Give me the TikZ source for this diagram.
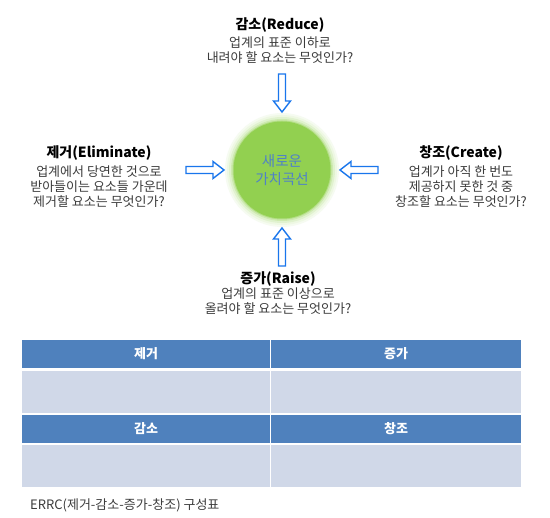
\documentclass[tikz,border=0pt]{standalone}
\usepackage{fontspec}
\setmainfont{Noto Sans CJK KR}
\begin{document}
\begin{tikzpicture}[x=1pt,y=-1pt,
  title/.style={font=\fontsize{14}{15}\selectfont\bfseries, text=black, inner sep=0pt},
  body/.style={font=\fontsize{13}{15}\selectfont, text=bodygray, align=center, inner sep=0pt},
  blockarrow/.style={draw=arrowblue, fill=white, line width=1.4pt, line join=miter},
  head/.style={fill=hdrblue, draw=none},
  cell/.style={fill=cellblue, draw=none},
  hdrtext/.style={font=\fontsize{13}{15}\selectfont\bfseries, text=white, inner sep=0pt},
]
\definecolor{bodygray}{RGB}{60,60,60}
\definecolor{arrowblue}{RGB}{25,118,236}
\definecolor{circgreen}{RGB}{146,208,80}
\definecolor{circtext}{RGB}{79,129,200}
\definecolor{hdrblue}{RGB}{79,129,189}
\definecolor{cellblue}{RGB}{208,216,232}
\useasboundingbox[fill=white] (0,0) rectangle (550,518);

% circle with glow
\foreach \r/\c in {57/8,55/16,53/28,51/45,49.5/70}{
  \fill[circgreen!\c!white] (282,170) circle[radius=\r];
}
\node[circle, fill=circgreen, minimum size=97pt, inner sep=0pt,
      font=\fontsize{14.5}{18.5}\selectfont, text=circtext, align=center] (core) at (282,170) {새로운\\가치곡선};

% arrows
\foreach \ang/\nm in {0/left,90/top,180/right,270/bottom}{
  \begin{scope}[shift={(core.center)}, rotate=\ang]
    \draw[blockarrow] (-96,-3.5) -- (-69,-3.5) -- (-69,-8.5) -- (-58,0) -- (-69,8.5) -- (-69,3.5) -- (-96,3.5) -- cycle;
  \end{scope}
}

% top block
\node[title] (rtitle) at (280,25) {감소(Reduce)};
\node[body] (rbody) at (280,50.5) {업계의 표준 이하로\\내려야 할 요소는 무엇인가?};
% left block
\node[title] (etitle) at (99,153) {제거(Eliminate)};
\node[body] (ebody) at (99,187) {업계에서 당연한 것으로\\받아들이는 요소들 가운데\\제거할 요소는 무엇인가?};
% right block
\node[title] (ctitle) at (461,153) {창조(Create)};
\node[body] (cbody) at (461,187) {업계가 아직 한 번도\\제공하지 못한 것 중\\창조할 요소는 무엇인가?};
% bottom block
\node[title] (ititle) at (278,279) {증가(Raise)};
\node[body] (ibody) at (278,301.5) {업계의 표준 이상으로\\올려야 할 요소는 무엇인가?};

% table
\fill[head] (22,340) rectangle (521,368);
\fill[cell] (22,371) rectangle (521,413);
\fill[head] (22,415) rectangle (521,443);
\fill[cell] (22,445) rectangle (521,487);
\draw[white, line width=1pt] (270,340) -- (270,487);
\node[hdrtext] (h1) at (146,354) {제거};
\node[hdrtext] (h2) at (396,354) {증가};
\node[hdrtext] (h3) at (146,429) {감소};
\node[hdrtext] (h4) at (396,429) {창조};

\node[anchor=west, font=\fontsize{13}{15}\selectfont, text=bodygray, inner sep=0pt] (cap) at (30,505) {ERRC(제거-감소-증가-창조) 구성표};
\end{tikzpicture}
\end{document}
